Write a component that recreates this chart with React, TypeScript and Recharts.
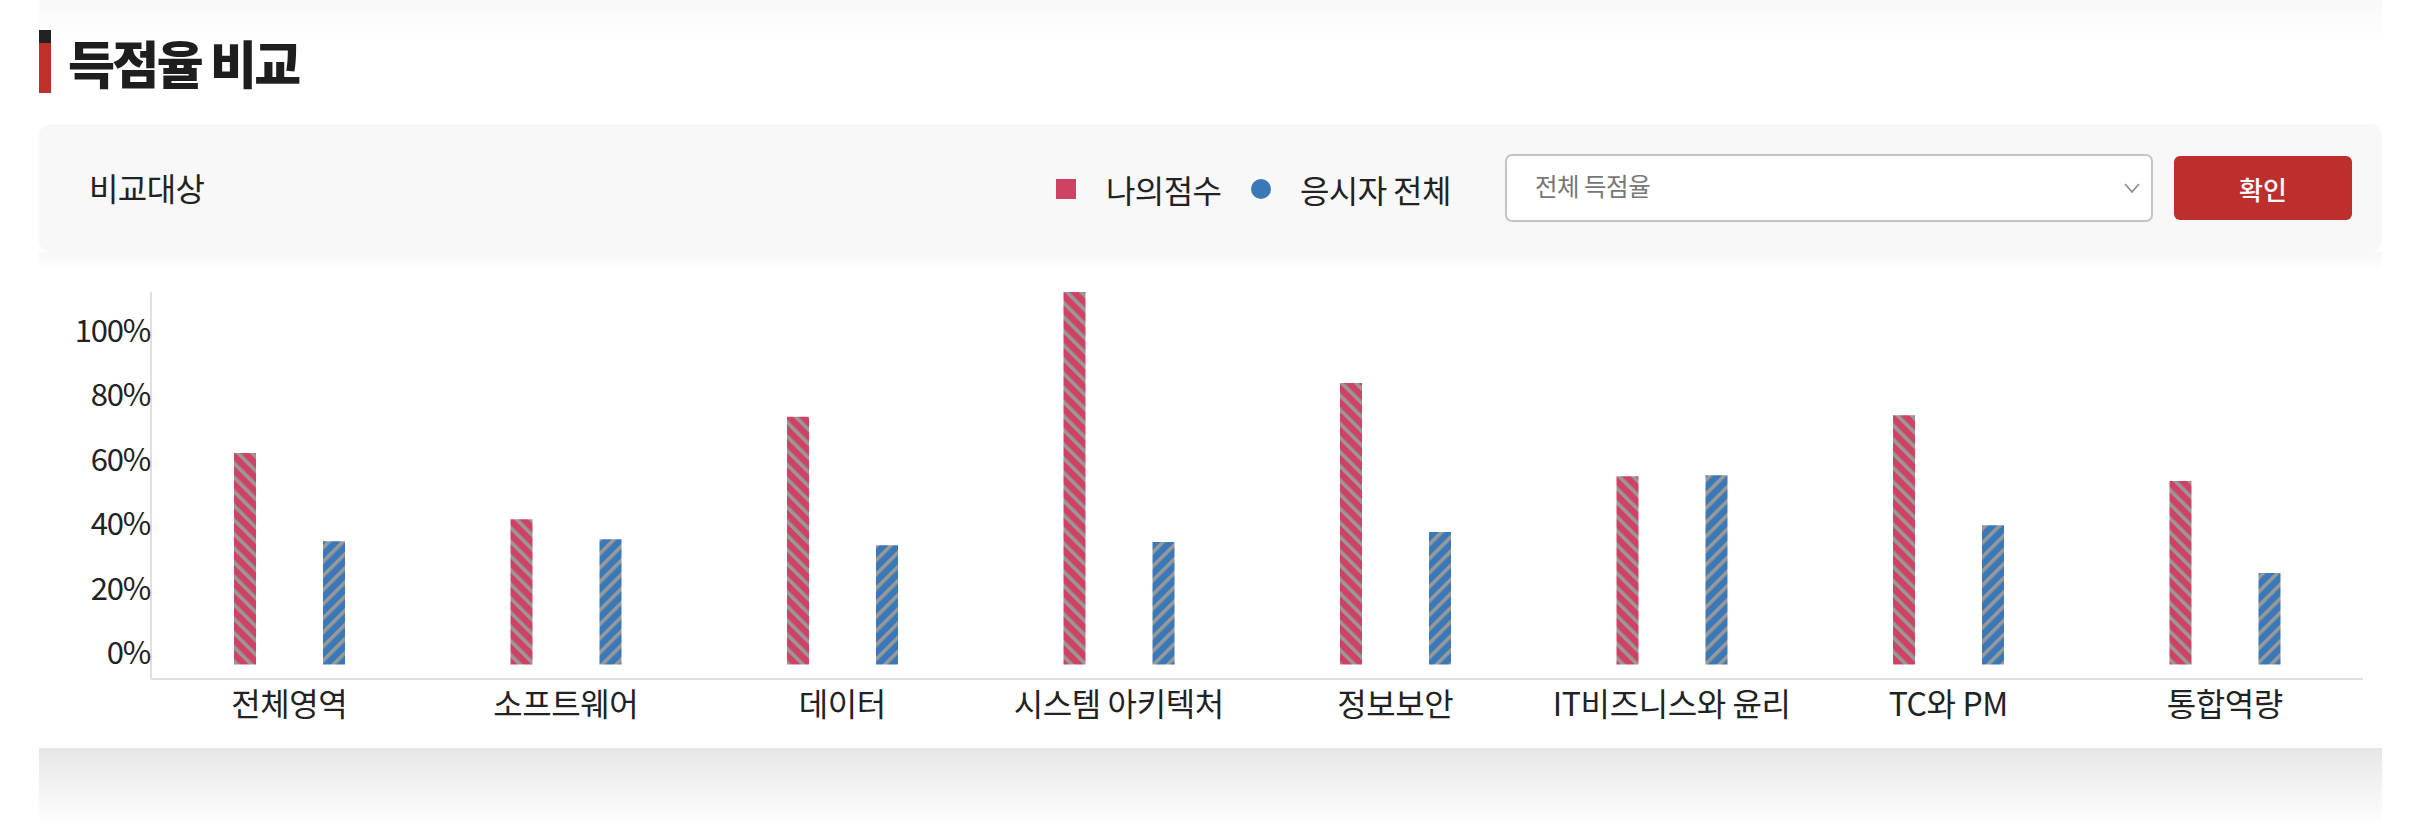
import React from 'react';
import { BarChart, Bar, XAxis, YAxis } from 'recharts';

// 영역별 득점율 (%)
const CATEGORIES = ['전체영역', '소프트웨어', '데이터', '시스템 아키텍처', '정보보안', 'IT비즈니스와 윤리', 'TC와 PM', '통합역량'];
const MY_SCORE = [65.6, 45.0, 76.8, 115.5, 87.3, 58.4, 77.3, 56.9];
const ALL_SCORE = [38.2, 38.8, 37.0, 38.0, 41.1, 58.7, 43.2, 28.4];
const Y_TICKS = [0, 20, 40, 60, 80, 100];

const FONT = '"Noto Sans CJK KR", "Noto Sans", sans-serif';
const RED = '#d04264';
const BLUE = '#3a78b8';
const STRIPE = '#999999';

const data = CATEGORIES.map((name, i) => ({ name, my: MY_SCORE[i], all: ALL_SCORE[i] }));

const YTick = ({ x, y, payload }: any) => (
  <text x={x} y={y} textAnchor="end" fontSize={31} fill="#222" fontFamily={FONT} letterSpacing={-1.2}>
    {payload.value}%
  </text>
);

const XTick = ({ x, y, payload }: any) => (
  <text x={x} y={y + 22} textAnchor="middle" fontSize={32} fill="#222" fontFamily={FONT} letterSpacing={-0.4}>
    {payload.value}
  </text>
);

const abs = (left: number, top: number, extra: React.CSSProperties = {}): React.CSSProperties => ({
  position: 'absolute', left, top, ...extra,
});

const label: React.CSSProperties = { fontSize: 32, lineHeight: 1, color: '#222', whiteSpace: 'nowrap', letterSpacing: -0.6 };

export default function App() {
  return (
    <div style={{ position: 'absolute', left: 0, top: 0, width: 2416, height: 826, background: '#fff', fontFamily: FONT, overflow: 'hidden' }}>
      {/* top fade */}
      <div style={abs(39, 0, { width: 2343, height: 40, background: 'linear-gradient(#f8f8f8, #fff)' })} />

      {/* title */}
      <div style={abs(39, 30, { width: 12, height: 13, background: '#222' })} />
      <div style={abs(39, 43, { width: 12, height: 50, background: '#c0302b' })} />
      <div style={abs(68, 37, { fontSize: 51, fontWeight: 900, lineHeight: 1, color: '#1e1e1e', letterSpacing: -2.6, whiteSpace: 'nowrap' })}>
        득점율 비교
      </div>

      {/* control panel */}
      <div style={abs(39, 124, { width: 2343, height: 128, background: '#f8f8f8', borderRadius: 12 })} />
      <div style={abs(39, 252, { width: 2343, height: 20, background: 'linear-gradient(#f8f8f8, #fff)' })} />
      <div style={abs(89, 171, label)}>비교대상</div>

      <div style={abs(1056, 179, { width: 20, height: 20, background: RED })} />
      <div style={abs(1106, 173, label)}>나의점수</div>
      <div style={abs(1251, 179, { width: 20, height: 20, borderRadius: 10, background: BLUE })} />
      <div style={abs(1300, 173, label)}>응시자 전체</div>

      <div style={abs(1505, 154, { width: 648, height: 68, boxSizing: 'border-box', background: '#fff', border: '2px solid #c4c4c4', borderRadius: 7 })} />
      <div style={abs(1535, 174, { fontSize: 24.5, lineHeight: 1, color: '#777', whiteSpace: 'nowrap', letterSpacing: -0.5 })}>전체 득점율</div>
      <svg style={abs(2124, 182)} width={16} height={12}>
        <polyline points="1,2 8,10 15,2" fill="none" stroke="#888" strokeWidth={1.5} />
      </svg>

      <div style={abs(2174, 156, { width: 178, height: 64, background: '#bd2f2c', borderRadius: 6, color: '#fff', fontSize: 26, fontWeight: 500, display: 'flex', alignItems: 'center', justifyContent: 'center' })}>
        확인
      </div>

      {/* chart card shadow */}
      <div style={abs(39, 748, { width: 2343, height: 78, background: 'linear-gradient(#e6e6e6, #ffffff)' })} />

      <div style={abs(0, 260)}>
        <BarChart width={2416} height={500} data={data} margin={{ top: 32, right: 53, left: 0, bottom: 21 }} barGap={67}>
          <defs>
            <pattern id="stripeRed" patternUnits="userSpaceOnUse" width={10} height={10} patternTransform="rotate(-45)">
              <rect width={10} height={10} fill={RED} />
              <rect width={3.6} height={10} fill={STRIPE} />
            </pattern>
            <pattern id="stripeBlue" patternUnits="userSpaceOnUse" width={10} height={10} patternTransform="rotate(45)">
              <rect width={10} height={10} fill={BLUE} />
              <rect width={3.6} height={10} fill={STRIPE} />
            </pattern>
          </defs>
          <XAxis
            dataKey="name"
            height={60}
            tick={<XTick />}
            tickLine={false}
            tickSize={0}
            tickMargin={15}
            axisLine={{ stroke: '#e0e0e0', strokeWidth: 2 }}
            interval={0}
          />
          <YAxis
            type="number"
            width={151}
            domain={[-4.5, 115.5]}
            allowDataOverflow
            ticks={Y_TICKS}
            tick={<YTick />}
            tickLine={false}
            tickSize={0}
            tickMargin={1}
            axisLine={{ stroke: '#e0e0e0', strokeWidth: 2 }}
          />
          <Bar dataKey="my" name="나의점수" fill="url(#stripeRed)" barSize={22} isAnimationActive={false} />
          <Bar dataKey="all" name="응시자 전체" fill="url(#stripeBlue)" barSize={22} isAnimationActive={false} />
        </BarChart>
      </div>
    </div>
  );
}
